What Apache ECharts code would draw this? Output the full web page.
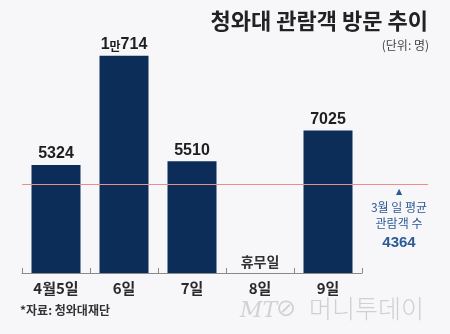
<!DOCTYPE html>
<html><head><meta charset="utf-8">
<script src="https://cdn.jsdelivr.net/npm/echarts@6/dist/echarts.min.js"></script>
<style>html,body{margin:0;padding:0;background:#f7f7f9;}#c{width:450px;height:334px;}</style>
</head><body><div id="c"></div>
<script>
const categories = ['4월5일', '6일', '7일', '8일', '9일'];
const visitors = [5324, 10714, 5510, 0, 7025];
const closedNote = ['', '', '', '휴무일', ''];
const marchAverage = 4364;
const yMax = 11000;

const FONT = "'Liberation Sans', 'Noto Sans CJK KR', sans-serif";
const KFONT = "'Noto Sans CJK KR', sans-serif";

const chart = echarts.init(document.getElementById('c'), null, {renderer: 'canvas'});

const barData = visitors.map((v, i) => {
  if (closedNote[i]) {
    return {value: v, itemStyle: {color: 'rgba(0,0,0,0)'},
      label: {show: true, formatter: closedNote[i], fontFamily: KFONT, fontSize: 14, fontWeight: 'bold', color: '#333', distance: 4}};
  }
  return {value: v};
});

chart.setOption({
  backgroundColor: '#f7f7f9',
  animation: false,
  grid: [
    {left: 22, right: 88, top: 50, bottom: 61},
    {left: 22, right: 22, top: 50, bottom: 61}
  ],
  xAxis: [
    {type: 'category', gridIndex: 0, data: categories,
     axisLine: {lineStyle: {color: '#8a8a8a', width: 1}},
     axisTick: {show: true, inside: true, length: 5, lineStyle: {color: '#8a8a8a'}},
     axisLabel: {color: '#2a2a2a', fontFamily: KFONT, fontSize: 15, fontWeight: 'bold', margin: 8}},
    {type: 'value', gridIndex: 1, min: 0, max: 1, show: false}
  ],
  yAxis: [
    {type: 'value', gridIndex: 0, min: 0, max: yMax, show: false, splitLine: {show: false}},
    {type: 'value', gridIndex: 1, min: 0, max: yMax, show: false, splitLine: {show: false}}
  ],
  series: [
    {type: 'line', xAxisIndex: 1, yAxisIndex: 1, data: [], z: 1,
     markLine: {silent: true, symbol: 'none', label: {show: false},
       lineStyle: {color: '#ec8e8e', width: 1, type: 'solid'},
       data: [{yAxis: marchAverage}]}},
    {type: 'bar', xAxisIndex: 0, yAxisIndex: 0, data: barData, barWidth: 49, z: 3,
     itemStyle: {color: '#0c2d58'},
     label: {show: true, position: 'top', distance: 3, color: '#1e1e1e',
       fontFamily: FONT, fontSize: 16, fontWeight: 'bold',
       formatter: p => {
         const v = p.value;
         if (v >= 10000) return '{b|' + Math.floor(v / 10000) + '}{s|만}{b|' + (v % 10000) + '}';
         return '{b|' + v + '}';
       },
       rich: {
         b: {fontFamily: FONT, fontSize: 16, fontWeight: 'bold', color: '#1e1e1e'},
         s: {fontFamily: KFONT, fontSize: 12, fontWeight: 'bold', color: '#1e1e1e', padding: [3, 0, 0, 0]}
       }}}
  ],
  graphic: [
    {type: 'text', right: 22, top: 10, style: {text: '청와대 관람객 방문 추이', font: "bold 22px 'Noto Sans CJK KR'", fill: '#222'}},
    {type: 'text', right: 21, top: 39, style: {text: '(단위: 명)', font: "12px 'Noto Sans CJK KR'", fill: '#444'}},
    {type: 'text', x: 399, y: 192, style: {text: '▲', font: "8px 'DejaVu Sans'", fill: '#2c5a94', align: 'center', verticalAlign: 'middle'}},
    {type: 'text', x: 399, y: 199, style: {text: '3월 일 평균\n관람객 수', font: "12px 'Noto Sans CJK KR'", fill: '#2c5a94', align: 'center', verticalAlign: 'top', lineHeight: 16}},
    {type: 'text', x: 399, y: 235, style: {text: String(marchAverage), font: "bold 15px 'Liberation Sans'", fill: '#2c5a94', align: 'center', verticalAlign: 'top'}},
    {type: 'text', left: 20, top: 304, style: {text: '*자료: 청와대재단', font: "bold 12px 'Noto Sans CJK KR'", fill: '#333'}},
    {type: 'text', left: 240, top: 300, style: {text: 'MT', font: "italic 22px 'DejaVu Serif'", fill: '#d2d2d2'}},
    {type: 'text', left: 276, top: 298, style: {text: '⊘', font: "24px 'DejaVu Sans'", fill: '#d2d2d2'}},
    {type: 'text', left: 309, top: 296, style: {text: '머니투데이', font: "300 25px 'Noto Sans CJK KR'", fill: '#d0d0d0'}}
  ]
});
</script></body></html>
